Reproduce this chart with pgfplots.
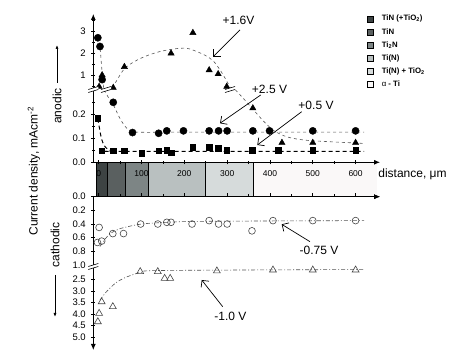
\documentclass[border=0pt]{standalone}
\usepackage{pgfplots}
\pgfplotsset{compat=1.18}
\usepackage{fontspec}
\setmainfont{Liberation Sans}
\usetikzlibrary{arrows.meta}
\definecolor{bandA}{HTML}{3D4343}
\definecolor{bandB}{HTML}{5A6060}
\definecolor{bandC}{HTML}{7D8585}
\definecolor{bandD}{HTML}{B9C0C0}
\definecolor{bandE}{HTML}{D6DBDB}
\definecolor{bandF}{HTML}{FAF8F8}
\definecolor{crv}{HTML}{555555}
\definecolor{omk}{HTML}{444444}
\tikzset{arr/.style={-{Latex[length=6pt,width=5pt]}}}
\pgfplotsset{
  brk/.style={scale only axis, width=286.7pt, xmin=-12.6, xmax=657, clip=false,
    /pgf/number format/assume math mode=true,
    tick align=outside, major tick length=4pt, minor tick length=3pt,
    every tick/.style={black, line width=0.6pt},
    axis line style={line width=0.8pt},
    tick label style={font=\fontsize{9.5}{11}\selectfont},
    yticklabel style={xshift=-2pt},
  },
}
\begin{document}
\begin{tikzpicture}
% ---------- band ----------
\begin{axis}[scale only axis, width=286.7pt, height=34.4pt, xmin=-12.6, xmax=657,
  ymin=0, ymax=1, axis x line=bottom, axis y line=none, axis on top,
  x axis line style={arr, line width=0.8pt},
  xtick={0,100,...,600}, minor x tick num=1, xticklabels={},
  tick align=inside, major tick length=4pt, minor tick length=3pt,
  every tick/.style={black, line width=0.6pt},
  at={(93.3pt,158.3pt)}, anchor=south west, clip=false,
  legend image code/.code={\draw[#1] (0pt,-3pt) rectangle (6pt,3pt);},
  legend style={at={(0.955,5.31)}, anchor=north west, draw=none, fill=none,
    font=\fontsize{7.8}{9}\selectfont\bfseries, row sep=4pt, inner sep=0pt,
    nodes={inner sep=1pt}, /tikz/every odd column/.append style={column sep=7pt}},
  legend cell align=left]
\addplot[fill=bandA, draw=black, line width=0.5pt] coordinates {(-5,1) (19,1)} \closedcycle;
\addlegendentry{TiN (+TiO\textsubscript{2})}
\addplot[fill=bandB, draw=black, line width=0.5pt] coordinates {(19,1) (63,1)} \closedcycle;
\addlegendentry{TiN}
\addplot[fill=bandC, draw=black, line width=0.5pt] coordinates {(63,1) (115,1)} \closedcycle;
\addlegendentry{Ti\textsubscript{2}N}
\addplot[fill=bandD, draw=black, line width=0.5pt] coordinates {(115,1) (249,1)} \closedcycle;
\addlegendentry{Ti(N)}
\addplot[fill=bandE, draw=black, line width=0.5pt] coordinates {(249,1) (362,1)} \closedcycle;
\addlegendentry{Ti(N) + TiO\textsubscript{2}}
\addplot[fill=bandF, draw=none] coordinates {(362,1) (650,1)} \closedcycle;
\addlegendentry{{\mdseries α} - Ti}
\end{axis}
% ---------- anodic upper ----------
\begin{axis}[brk, at={(93.3pt,265pt)}, anchor=south west, height=76pt,
  ymin=0.326, ymax=3.81, axis x line=none, axis y line=left,
  y axis line style={arr},
  ytick={1,2,3}, yticklabels={1,2,3}, minor ytick={0.5,1.5,2.5,3.5}]
\addplot[crv, dashed, line width=0.6pt, smooth] coordinates {
 (17,0.33) (35,0.55) (60,1.3) (90,1.7) (120,1.95) (150,2.12) (190,2.24) (210,2.22)
 (230,2.08) (250,1.9) (268,1.65) (285,1.2) (300,0.7) (310,0.33)};
\addplot[crv, dashed, line width=0.6pt, smooth] coordinates {
 (-2,2.75) (3,2.3) (6,1.6) (9,0.9) (12,0.33)};
\addplot[only marks, mark=triangle*, mark size=3.6pt, black] coordinates {
 (8,1.01) (1,0.48) (34,0.43) (60,1.39) (169,2.01) (220,2.95) (258,1.24) (279,1.06) (299,0.48)};
\addplot[only marks, mark=*, mark size=3.6pt, black] coordinates {
 (-2,2.72) (3,2.32) (8,0.80)};
\end{axis}
% ---------- anodic lower ----------
\begin{axis}[brk, at={(93.3pt,192.7pt)}, anchor=south west, height=72.3pt,
  ymin=0, ymax=0.299, axis x line=bottom, axis y line=left,
  x axis line style={arr}, y axis line style={-},
  xtick={0,100,...,600}, minor x tick num=1,
  xticklabel style={font=\fontsize{8.5}{10}\selectfont, yshift=-3pt},
  ytick={0,0.1,0.2}, yticklabels={0.0,0.1,0.2}, minor ytick={0.05,0.15,0.25}]
\addplot[crv, dashed, line width=0.6pt, smooth] coordinates {
 (319,0.3) (340,0.26) (360,0.22) (385,0.17) (410,0.13) (440,0.105) (480,0.092) (540,0.085) (620,0.078)};
\addplot[crv, dashed, line width=0.6pt, smooth] coordinates {
 (13,0.3) (22,0.27) (35,0.235) (50,0.18) (65,0.142) (80,0.127) (110,0.124) (200,0.125) (620,0.125)};
\addplot[black, dash pattern=on 4pt off 3pt, line width=1pt, smooth] coordinates {
 (-2,0.18) (5,0.11) (10,0.08) (17,0.06) (30,0.048) (60,0.045) (620,0.045)};
\addplot[only marks, mark=*, mark size=3.6pt, black] coordinates {
 (34,0.248) (79,0.123) (140,0.12) (159,0.13) (198,0.13) (258,0.13) (280,0.13) (300,0.13)
 (360,0.13) (399,0.13) (500,0.13) (600,0.13)};
\addplot[only marks, mark=square*, mark size=2.8pt, black] coordinates {
 (-2,0.182) (7,0.048) (34,0.048) (59,0.048) (100,0.037) (140,0.048) (159,0.051) (170,0.04)
 (220,0.062) (258,0.062) (279,0.058) (299,0.051) (359,0.051) (419,0.051) (500,0.051) (600,0.051)};
\addplot[only marks, mark=triangle*, mark size=3.6pt, black] coordinates {
 (360,0.224) (428,0.081) (500,0.081) (600,0.081)};
\end{axis}
% ---------- cathodic upper ----------
\begin{axis}[brk, at={(93.3pt,88pt)}, anchor=south west, height=70.3pt,
  ymin=0, ymax=1.029, y dir=reverse, axis x line=none, axis y line=left,
  y axis line style={-},
  ytick={0,0.2,0.4,0.6,0.8,1.0}, yticklabels={0.0,0.2,0.4,0.6,0.8,1.0}]
\addplot[crv, dash pattern=on 4pt off 2pt on 1pt off 2pt, line width=0.6pt, smooth] coordinates {
 (3,0.73) (15,0.62) (27,0.54) (45,0.48) (60,0.45) (100,0.40) (160,0.375) (250,0.36) (620,0.35)};
\addplot[only marks, mark=o, mark size=3.4pt, omk, line width=0.6pt] coordinates {
 (1,0.45) (-3,0.67) (7,0.65) (33,0.54) (58,0.54) (98,0.40) (138,0.40) (159,0.375) (169,0.375)
 (218,0.40) (258,0.35) (280,0.40) (300,0.40) (358,0.50) (407,0.35) (500,0.35) (600,0.35)};
\end{axis}
% ---------- cathodic lower ----------
\begin{axis}[brk, at={(93.3pt,5pt)}, anchor=south west, height=83pt,
  ymin=1.97, ymax=5.55, y dir=reverse, axis x line=none, axis y line=left,
  y axis line style={arr},
  ytick={2.5,3,3.5,4,4.5,5}, yticklabels={2.5,3.0,3.5,4.0,4.5,5.0}]
\addplot[crv, dash pattern=on 4pt off 2pt on 1pt off 2pt, line width=0.6pt, smooth] coordinates {
 (3,3.4) (15,3.1) (26,2.89) (40,2.65) (58,2.46) (80,2.3) (100,2.2) (150,2.12) (620,2.08)};
\addplot[only marks, mark=triangle, mark size=4pt, omk, line width=0.6pt] coordinates {
 (-2,4.33) (1,3.97) (7,3.47) (33,3.68) (97,2.17) (138,2.17) (154,2.46) (167,2.46) (276,2.14)
 (407,2.1) (500,2.1) (600,2.1)};
\end{axis}
\begin{scope}[x=1pt,y=1pt]
% band bottom axis line
\draw[arr, line width=0.8pt] (93.3,158.3) -- (380,158.3);
% ---------- breaks ----------
\foreach \bx/\by in {93.3/265, 93.3/88, 106/265, 230/265}{
  \fill[white] (\bx-5,\by-2.5) -- (\bx+5,\by+0.5) -- (\bx+5,\by+3.5) -- (\bx-5,\by+0.5) -- cycle;
  \draw[line width=0.6pt] (\bx-5,\by-2.5) -- (\bx+5,\by+0.5);
  \draw[line width=0.6pt] (\bx-5,\by+0.5) -- (\bx+5,\by+3.5);
}
% ---------- labels ----------
\def\ann{\fontsize{12}{14}\selectfont}
\node[font=\ann] at (238.5,335) {+1.6V};
\draw[line width=0.7pt, -{Straight Barb[length=5pt]}] (240,325) -- (213.3,298.3);
\node[font=\ann] at (269.5,265.7) {+2.5 V};
\draw[line width=0.7pt, -{Straight Barb[length=5pt]}] (260.7,260) -- (220,231.7);
\node[font=\ann] at (316,250) {+0.5 V};
\draw[line width=0.7pt, -{Straight Barb[length=5pt]}] (301.7,243.3) -- (257.3,210);
\node[font=\ann] at (319,105) {-0.75 V};
\draw[line width=0.7pt, -{Straight Barb[length=5pt]}] (310,113.3) -- (281.7,130.7);
\node[font=\ann] at (230.5,38.3) {-1.0 V};
\draw[line width=0.7pt, -{Straight Barb[length=5pt]}] (222.7,48.3) -- (201.7,75);
\node[font=\ann] at (412.5,181) {distance, μm};
\node[font=\ann, rotate=90] at (34,184) {Current density, mAcm\textsuperscript{-2}};
\node[font=\ann, rotate=90] at (57,249) {anodic};
\draw[line width=0.7pt, -{Latex[length=4pt,width=3pt]}] (57,272) -- (57,310);
\node[font=\ann, rotate=90] at (55,110) {cathodic};
\draw[line width=0.7pt, -{Latex[length=4pt,width=3pt]}] (55,80) -- (55,38);
\pgfresetboundingbox
\useasboundingbox (0,0) rectangle (474,355);
\end{scope}
\end{tikzpicture}
\end{document}
